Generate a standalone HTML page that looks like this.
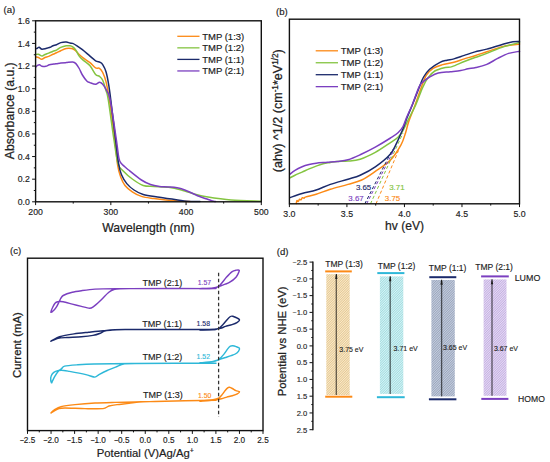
<!DOCTYPE html>
<html><head><meta charset="utf-8"><style>
html,body{margin:0;padding:0;background:#fff;}
svg{display:block;}
text{font-family:"Liberation Sans", sans-serif;}
</style></head><body>
<svg width="550" height="462" viewBox="0 0 550 462">
<rect width="550" height="462" fill="#fff"/>
<text x="3.6" y="12.6" font-size="9.6" fill="#222" stroke="#222" stroke-width="0.173" text-anchor="start">(a)</text>
<line x1="35.6" y1="201.8" x2="35.6" y2="205.1" stroke="#111" stroke-width="1.0"/>
<line x1="73.22" y1="201.8" x2="73.22" y2="203.6" stroke="#111" stroke-width="1.0"/>
<line x1="110.83" y1="201.8" x2="110.83" y2="205.1" stroke="#111" stroke-width="1.0"/>
<line x1="148.45" y1="201.8" x2="148.45" y2="203.6" stroke="#111" stroke-width="1.0"/>
<line x1="186.07" y1="201.8" x2="186.07" y2="205.1" stroke="#111" stroke-width="1.0"/>
<line x1="223.68" y1="201.8" x2="223.68" y2="203.6" stroke="#111" stroke-width="1.0"/>
<line x1="261.3" y1="201.8" x2="261.3" y2="205.1" stroke="#111" stroke-width="1.0"/>
<line x1="32.1" y1="201.8" x2="35.6" y2="201.8" stroke="#111" stroke-width="1.0"/>
<line x1="33.8" y1="190.49" x2="35.6" y2="190.49" stroke="#111" stroke-width="1.0"/>
<line x1="32.1" y1="179.18" x2="35.6" y2="179.18" stroke="#111" stroke-width="1.0"/>
<line x1="33.8" y1="167.86" x2="35.6" y2="167.86" stroke="#111" stroke-width="1.0"/>
<line x1="32.1" y1="156.55" x2="35.6" y2="156.55" stroke="#111" stroke-width="1.0"/>
<line x1="33.8" y1="145.24" x2="35.6" y2="145.24" stroke="#111" stroke-width="1.0"/>
<line x1="32.1" y1="133.93" x2="35.6" y2="133.93" stroke="#111" stroke-width="1.0"/>
<line x1="33.8" y1="122.61" x2="35.6" y2="122.61" stroke="#111" stroke-width="1.0"/>
<line x1="32.1" y1="111.3" x2="35.6" y2="111.3" stroke="#111" stroke-width="1.0"/>
<line x1="33.8" y1="99.99" x2="35.6" y2="99.99" stroke="#111" stroke-width="1.0"/>
<line x1="32.1" y1="88.68" x2="35.6" y2="88.68" stroke="#111" stroke-width="1.0"/>
<line x1="33.8" y1="77.36" x2="35.6" y2="77.36" stroke="#111" stroke-width="1.0"/>
<line x1="32.1" y1="66.05" x2="35.6" y2="66.05" stroke="#111" stroke-width="1.0"/>
<line x1="33.8" y1="54.74" x2="35.6" y2="54.74" stroke="#111" stroke-width="1.0"/>
<line x1="32.1" y1="43.43" x2="35.6" y2="43.43" stroke="#111" stroke-width="1.0"/>
<line x1="33.8" y1="32.11" x2="35.6" y2="32.11" stroke="#111" stroke-width="1.0"/>
<line x1="32.1" y1="20.8" x2="35.6" y2="20.8" stroke="#111" stroke-width="1.0"/>
<text x="35.6" y="214.8" font-size="8.7" fill="#222" stroke="#222" stroke-width="0.157" text-anchor="middle">200</text>
<text x="110.83" y="214.8" font-size="8.7" fill="#222" stroke="#222" stroke-width="0.157" text-anchor="middle">300</text>
<text x="186.07" y="214.8" font-size="8.7" fill="#222" stroke="#222" stroke-width="0.157" text-anchor="middle">400</text>
<text x="261.3" y="214.8" font-size="8.7" fill="#222" stroke="#222" stroke-width="0.157" text-anchor="middle">500</text>
<text x="29.8" y="204.9" font-size="8.7" fill="#222" stroke="#222" stroke-width="0.157" text-anchor="end">0.0</text>
<text x="29.8" y="182.28" font-size="8.7" fill="#222" stroke="#222" stroke-width="0.157" text-anchor="end">0.2</text>
<text x="29.8" y="159.65" font-size="8.7" fill="#222" stroke="#222" stroke-width="0.157" text-anchor="end">0.4</text>
<text x="29.8" y="137.03" font-size="8.7" fill="#222" stroke="#222" stroke-width="0.157" text-anchor="end">0.6</text>
<text x="29.8" y="114.4" font-size="8.7" fill="#222" stroke="#222" stroke-width="0.157" text-anchor="end">0.8</text>
<text x="29.8" y="91.78" font-size="8.7" fill="#222" stroke="#222" stroke-width="0.157" text-anchor="end">1.0</text>
<text x="29.8" y="69.15" font-size="8.7" fill="#222" stroke="#222" stroke-width="0.157" text-anchor="end">1.2</text>
<text x="29.8" y="46.53" font-size="8.7" fill="#222" stroke="#222" stroke-width="0.157" text-anchor="end">1.4</text>
<text x="29.8" y="23.9" font-size="8.7" fill="#222" stroke="#222" stroke-width="0.157" text-anchor="end">1.6</text>
<text x="148.3" y="232.3" font-size="12.2" fill="#222" stroke="#222" stroke-width="0.22" text-anchor="middle">Wavelength (nm)</text>
<text transform="translate(14.3,110.8) rotate(-90)" font-size="12.2" fill="#222" stroke="#222" stroke-width="0.26" text-anchor="middle">Absorbance (a.u.)</text>
<path d="M35.8,56.8 C36.23,56.92 37.42,57.08 38.4,57.5 C39.38,57.92 40.6,59.3 41.7,59.3 C42.8,59.3 43.83,57.98 45,57.5 C46.17,57.02 47.35,56.95 48.7,56.4 C50.05,55.85 51.8,54.8 53.1,54.2 C54.4,53.6 55.22,53.38 56.5,52.8 C57.78,52.22 59.18,51.42 60.8,50.7 C62.42,49.98 64.4,48.87 66.2,48.5 C68,48.13 70.15,48.23 71.6,48.5 C73.05,48.77 73.63,49.1 74.9,50.1 C76.17,51.1 77.77,53.15 79.2,54.5 C80.63,55.85 81.7,56.85 83.5,58.2 C85.3,59.55 87.98,60.98 90,62.6 C92.02,64.22 94.02,66.95 95.6,67.9 C97.18,68.85 98.32,67.53 99.5,68.3 C100.68,69.07 101.62,70.28 102.7,72.5 C103.78,74.72 104.88,77.02 106,81.6 C107.12,86.18 107.93,90.27 109.4,100 C110.87,109.73 113.42,129.08 114.8,140 C116.18,150.92 116.75,159.43 117.7,165.5 C118.65,171.57 119.28,173.07 120.5,176.4 C121.72,179.73 123.03,182.93 125,185.5 C126.97,188.07 129.57,189.98 132.3,191.8 C135.03,193.62 137.78,195.28 141.4,196.4 C145.02,197.52 147.95,197.73 154,198.5 C160.05,199.27 171.7,200.5 177.7,201 C183.7,201.5 187.95,201.42 190,201.5" fill="none" stroke="#FC8A16" stroke-width="1.5" stroke-linejoin="round" stroke-linecap="round"/>
<path d="M35.8,54.5 C36.23,54.45 37.35,53.95 38.4,54.2 C39.45,54.45 41,55.95 42.1,56 C43.2,56.05 43.9,54.98 45,54.5 C46.1,54.02 47.35,53.65 48.7,53.1 C50.05,52.55 51.8,51.7 53.1,51.2 C54.4,50.7 55.22,50.73 56.5,50.1 C57.78,49.47 59.18,48.12 60.8,47.4 C62.42,46.68 64.67,46.07 66.2,45.8 C67.73,45.53 68.92,45.62 70,45.8 C71.08,45.98 71.72,46.18 72.7,46.9 C73.68,47.62 74.82,48.57 75.9,50.1 C76.98,51.63 77.93,54.38 79.2,56.1 C80.47,57.82 81.7,58.78 83.5,60.4 C85.3,62.02 87.98,63.47 90,65.8 C92.02,68.13 94.02,72.63 95.6,74.4 C97.18,76.17 98.32,75.42 99.5,76.4 C100.68,77.38 101.62,77.93 102.7,80.3 C103.78,82.67 105.07,87.32 106,90.6 C106.93,93.88 106.97,91.77 108.3,100 C109.63,108.23 112.38,129.4 114,140 C115.62,150.6 116.47,158.43 118,163.6 C119.53,168.77 120.82,168.43 123.2,171 C125.58,173.57 128.97,176.58 132.3,179 C135.63,181.42 139.58,184.27 143.2,185.5 C146.82,186.73 149.77,186.1 154,186.4 C158.23,186.7 164.03,186.7 168.6,187.3 C173.17,187.9 176.83,188.8 181.4,190 C185.97,191.2 192.07,193.42 196,194.5 C199.93,195.58 199.17,195.58 205,196.5 C210.83,197.42 221.67,199.2 231,200 C240.33,200.8 256,201.08 261,201.3" fill="none" stroke="#84C441" stroke-width="1.5" stroke-linejoin="round" stroke-linecap="round"/>
<path d="M35.8,48.7 C36.05,48.63 36.75,48.55 37.3,48.3 C37.85,48.05 38.42,47.08 39.1,47.2 C39.78,47.32 40.65,48.7 41.4,49 C42.15,49.3 42.5,49.18 43.6,49 C44.7,48.82 46.9,48.2 48,47.9 C49.1,47.6 49.35,47.57 50.2,47.2 C51.05,46.83 52.05,46.12 53.1,45.7 C54.15,45.28 55.22,45.22 56.5,44.7 C57.78,44.18 59.18,43.05 60.8,42.6 C62.42,42.15 64.67,41.92 66.2,42 C67.73,42.08 68.92,42.87 70,43.1 C71.08,43.33 71.53,42.95 72.7,43.4 C73.87,43.85 75.38,44.77 77,45.8 C78.62,46.83 80.23,47.88 82.4,49.6 C84.57,51.32 87.8,54.23 90,56.1 C92.2,57.97 93.92,59.77 95.6,60.8 C97.28,61.83 98.92,61.65 100.1,62.3 C101.28,62.95 101.72,63.12 102.7,64.7 C103.68,66.28 105.02,68.55 106,71.8 C106.98,75.05 107.8,79.5 108.6,84.2 C109.4,88.9 109.63,90.7 110.8,100 C111.97,109.3 114.3,129.4 115.6,140 C116.9,150.6 117.63,157.85 118.6,163.6 C119.57,169.35 120.03,171.17 121.4,174.5 C122.77,177.83 124.7,181.02 126.8,183.6 C128.9,186.18 131.27,188.18 134,190 C136.73,191.82 138.95,193.28 143.2,194.5 C147.45,195.72 153.75,196.38 159.5,197.3 C165.25,198.22 173.15,199.35 177.7,200 C182.25,200.65 183.08,200.95 186.8,201.2 C190.52,201.45 197.8,201.45 200,201.5" fill="none" stroke="#1B2A6B" stroke-width="1.5" stroke-linejoin="round" stroke-linecap="round"/>
<path d="M35.8,67 C36.05,66.77 36.68,65.97 37.3,65.6 C37.92,65.23 38.7,64.68 39.5,64.8 C40.3,64.92 41.05,66.05 42.1,66.3 C43.15,66.55 44.58,66.55 45.8,66.3 C47.02,66.05 48.05,65.17 49.4,64.8 C50.75,64.43 52.47,64.33 53.9,64.1 C55.33,63.87 56.85,63.57 58,63.4 C59.15,63.23 59.43,63.23 60.8,63.1 C62.17,62.97 64.22,62.78 66.2,62.6 C68.18,62.42 71.08,61.83 72.7,62 C74.32,62.17 74.82,62.52 75.9,63.6 C76.98,64.68 78.12,66.6 79.2,68.5 C80.28,70.4 81.13,72.92 82.4,75 C83.67,77.08 85.53,79.73 86.8,81 C88.07,82.27 88.53,82.07 90,82.6 C91.47,83.13 94.02,84.27 95.6,84.2 C97.18,84.13 98.32,82.2 99.5,82.2 C100.68,82.2 101.62,83 102.7,84.2 C103.78,85.4 104.75,86.77 106,89.4 C107.25,92.03 108.47,91.57 110.2,100 C111.93,108.43 114.95,130.3 116.4,140 C117.85,149.7 118.07,154.27 118.9,158.2 C119.73,162.13 119.78,161.63 121.4,163.6 C123.02,165.57 125.27,167.27 128.6,170 C131.93,172.73 137.75,177.58 141.4,180 C145.05,182.42 147.48,183.43 150.5,184.5 C153.52,185.57 156.48,186 159.5,186.4 C162.52,186.8 164.95,186.52 168.6,186.9 C172.25,187.28 177.45,187.63 181.4,188.7 C185.35,189.77 189.37,192.03 192.3,193.3 C195.23,194.57 196.72,195.4 199,196.3 C201.28,197.2 204,198 206,198.7 C208,199.4 209.42,200.02 211,200.5 C212.58,200.98 214.75,201.42 215.5,201.6" fill="none" stroke="#7B3FC0" stroke-width="1.5" stroke-linejoin="round" stroke-linecap="round"/>
<rect x="35.6" y="20.8" width="225.7" height="181" fill="none" stroke="#111" stroke-width="1.4"/>
<line x1="177.3" y1="36.3" x2="199.5" y2="36.3" stroke="#FC8A16" stroke-width="1.3"/>
<text x="202.2" y="39.7" font-size="9.5" fill="#222" stroke="#222" stroke-width="0.171" text-anchor="start">TMP (1:3)</text>
<line x1="177.3" y1="47.85" x2="199.5" y2="47.85" stroke="#84C441" stroke-width="1.3"/>
<text x="202.2" y="51.25" font-size="9.5" fill="#222" stroke="#222" stroke-width="0.171" text-anchor="start">TMP (1:2)</text>
<line x1="177.3" y1="59.4" x2="199.5" y2="59.4" stroke="#1B2A6B" stroke-width="1.3"/>
<text x="202.2" y="62.8" font-size="9.5" fill="#222" stroke="#222" stroke-width="0.171" text-anchor="start">TMP (1:1)</text>
<line x1="177.3" y1="70.95" x2="199.5" y2="70.95" stroke="#7B3FC0" stroke-width="1.3"/>
<text x="202.2" y="74.35" font-size="9.5" fill="#222" stroke="#222" stroke-width="0.171" text-anchor="start">TMP (2:1)</text>
<text x="276" y="14.6" font-size="9.6" fill="#222" stroke="#222" stroke-width="0.173" text-anchor="start">(b)</text>
<line x1="289.4" y1="203.8" x2="289.4" y2="207.1" stroke="#111" stroke-width="1.0"/>
<line x1="318.16" y1="203.8" x2="318.16" y2="205.6" stroke="#111" stroke-width="1.0"/>
<line x1="346.92" y1="203.8" x2="346.92" y2="207.1" stroke="#111" stroke-width="1.0"/>
<line x1="375.69" y1="203.8" x2="375.69" y2="205.6" stroke="#111" stroke-width="1.0"/>
<line x1="404.45" y1="203.8" x2="404.45" y2="207.1" stroke="#111" stroke-width="1.0"/>
<line x1="433.21" y1="203.8" x2="433.21" y2="205.6" stroke="#111" stroke-width="1.0"/>
<line x1="461.98" y1="203.8" x2="461.98" y2="207.1" stroke="#111" stroke-width="1.0"/>
<line x1="490.74" y1="203.8" x2="490.74" y2="205.6" stroke="#111" stroke-width="1.0"/>
<line x1="519.5" y1="203.8" x2="519.5" y2="207.1" stroke="#111" stroke-width="1.0"/>
<text x="289.4" y="217.1" font-size="8.8" fill="#222" stroke="#222" stroke-width="0.158" text-anchor="middle">3.0</text>
<text x="346.92" y="217.1" font-size="8.8" fill="#222" stroke="#222" stroke-width="0.158" text-anchor="middle">3.5</text>
<text x="404.45" y="217.1" font-size="8.8" fill="#222" stroke="#222" stroke-width="0.158" text-anchor="middle">4.0</text>
<text x="461.98" y="217.1" font-size="8.8" fill="#222" stroke="#222" stroke-width="0.158" text-anchor="middle">4.5</text>
<text x="519.5" y="217.1" font-size="8.8" fill="#222" stroke="#222" stroke-width="0.158" text-anchor="middle">5.0</text>
<text x="404.5" y="229.8" font-size="12.1" fill="#222" stroke="#222" stroke-width="0.218" text-anchor="middle">hv (eV)</text>
<text transform="translate(282.4,110.7) rotate(-90)" font-size="12.55" fill="#222" stroke="#222" stroke-width="0.26" text-anchor="middle">(ahv) ^1/2 (cm<tspan font-size="8.2" dy="-4.6">-1</tspan><tspan dy="4.6">*eV</tspan><tspan font-size="8.2" dy="-4.6">1/2</tspan><tspan dy="4.6">)</tspan></text>
<path d="M296.3,203.4 C296.42,202.93 296.67,200.93 297,200.6 C297.33,200.27 297.87,201.63 298.3,201.4 C298.73,201.17 299.15,199.47 299.6,199.2 C300.05,198.93 300.53,200.05 301,199.8 C301.47,199.55 301.9,197.97 302.4,197.7 C302.9,197.43 303.4,198.33 304,198.2 C304.6,198.07 303.97,197.57 306,196.9 C308.03,196.23 312.15,195.47 316.2,194.2 C320.25,192.93 325,190.93 330.3,189.3 C335.6,187.67 342.77,185.95 348,184.4 C353.23,182.85 357.15,182.17 361.7,180 C366.25,177.83 370.5,174.73 375.3,171.4 C380.1,168.07 386.22,164.43 390.5,160 C394.78,155.57 398.48,149.35 401,144.8 C403.52,140.25 404.33,136.5 405.6,132.7 C406.87,128.9 407.05,126.52 408.6,122 C410.15,117.48 412.83,111.22 414.9,105.6 C416.97,99.98 419.12,93.35 421,88.3 C422.88,83.25 424.18,78.62 426.2,75.3 C428.22,71.98 430.5,70.13 433.1,68.4 C435.7,66.67 438.33,65.92 441.8,64.9 C445.27,63.88 450.15,63.3 453.9,62.3 C457.65,61.3 460.78,60 464.3,58.9 C467.82,57.8 471.25,56.88 475,55.7 C478.75,54.52 482.1,53.35 486.8,51.8 C491.5,50.25 497.75,47.7 503.2,46.4 C508.65,45.1 516.78,44.4 519.5,44" fill="none" stroke="#FC8A16" stroke-width="1.5" stroke-linejoin="round" stroke-linecap="round"/>
<path d="M289.7,178 C290.58,177.53 292.93,176.18 295,175.2 C297.07,174.22 299.75,173.15 302.1,172.1 C304.45,171.05 306.75,169.9 309.1,168.9 C311.45,167.9 313.85,166.97 316.2,166.1 C318.55,165.23 320.85,164.3 323.2,163.7 C325.55,163.1 327.95,162.88 330.3,162.5 C332.65,162.12 334.35,161.63 337.3,161.4 C340.25,161.17 344.18,161.47 348,161.1 C351.82,160.73 355.65,160.65 360.2,159.2 C364.75,157.75 370.25,155.17 375.3,152.4 C380.35,149.63 386.72,145.12 390.5,142.6 C394.28,140.08 395.98,139.2 398,137.3 C400.02,135.4 400.83,134.25 402.6,131.2 C404.37,128.15 406.4,123.42 408.6,119 C410.8,114.58 413.45,109.97 415.8,104.7 C418.15,99.43 420.68,91.87 422.7,87.4 C424.72,82.93 425.88,80.63 427.9,77.9 C429.92,75.17 431.92,72.73 434.8,71 C437.68,69.27 442.32,68.23 445.2,67.5 C448.08,66.77 448.92,67.6 452.1,66.6 C455.28,65.6 460.48,63.02 464.3,61.5 C468.12,59.98 471.25,58.85 475,57.5 C478.75,56.15 482.1,55.17 486.8,53.4 C491.5,51.63 497.75,48.7 503.2,46.9 C508.65,45.1 516.78,43.32 519.5,42.6" fill="none" stroke="#84C441" stroke-width="1.5" stroke-linejoin="round" stroke-linecap="round"/>
<path d="M289.7,197.7 C291.77,197 297.68,194.78 302.1,193.5 C306.52,192.22 311.5,191.52 316.2,190 C320.9,188.48 325,186.2 330.3,184.4 C335.6,182.6 343.02,180.73 348,179.2 C352.98,177.67 355.65,177.27 360.2,175.2 C364.75,173.13 370.25,170.35 375.3,166.8 C380.35,163.25 386.97,157.82 390.5,153.9 C394.03,149.98 394.48,147.33 396.5,143.3 C398.52,139.27 400.83,133.98 402.6,129.7 C404.37,125.42 405.48,121.72 407.1,117.6 C408.72,113.48 410.28,110.03 412.3,105 C414.32,99.97 417.32,92.07 419.2,87.4 C421.08,82.73 421.87,80.03 423.6,77 C425.33,73.97 426.87,71.65 429.6,69.2 C432.33,66.75 437.1,63.8 440,62.3 C442.9,60.8 444.68,60.77 447,60.2 C449.32,59.63 451.02,59.7 453.9,58.9 C456.78,58.1 460.78,56.57 464.3,55.4 C467.82,54.23 471.25,52.95 475,51.9 C478.75,50.85 481.2,50.63 486.8,49.1 C492.4,47.57 503.15,43.97 508.6,42.7 C514.05,41.43 517.68,41.7 519.5,41.5" fill="none" stroke="#1B2A6B" stroke-width="1.5" stroke-linejoin="round" stroke-linecap="round"/>
<path d="M289.7,174.5 C290.58,173.8 292.93,171.58 295,170.3 C297.07,169.02 299.75,167.75 302.1,166.8 C304.45,165.85 306.75,165.2 309.1,164.6 C311.45,164 313.15,163.58 316.2,163.2 C319.25,162.82 323.88,162.6 327.4,162.3 C330.92,162 333.87,161.83 337.3,161.4 C340.73,160.97 344.18,160.82 348,159.7 C351.82,158.58 355.65,156.8 360.2,154.7 C364.75,152.6 370.25,149.88 375.3,147.1 C380.35,144.32 386.72,140.4 390.5,138 C394.28,135.6 395.92,134.62 398,132.7 C400.08,130.78 401.5,129.2 403,126.5 C404.5,123.8 405.45,120.13 407,116.5 C408.55,112.87 410.27,109.68 412.3,104.7 C414.33,99.72 417.32,90.48 419.2,86.6 C421.08,82.72 421.87,83 423.6,81.4 C425.33,79.8 427.15,78.4 429.6,77 C432.05,75.6 434.83,73.87 438.3,73 C441.77,72.13 446.65,72.2 450.4,71.8 C454.15,71.4 457.87,71.1 460.8,70.6 C463.73,70.1 465.48,69.3 468,68.8 C470.52,68.3 472.77,68.33 475.9,67.6 C479.03,66.87 483.17,65.93 486.8,64.4 C490.43,62.87 494.07,60.23 497.7,58.4 C501.33,56.57 504.97,54.58 508.6,53.4 C512.23,52.22 517.68,51.65 519.5,51.3" fill="none" stroke="#7B3FC0" stroke-width="1.5" stroke-linejoin="round" stroke-linecap="round"/>
<line x1="376" y1="203.8" x2="398.5" y2="150.5" stroke="#FC8A16" stroke-width="1.0" stroke-dasharray="3.2,2.3"/>
<line x1="370.5" y1="203.8" x2="403" y2="133" stroke="#84C441" stroke-width="1.0" stroke-dasharray="3.2,2.3"/>
<line x1="364.8" y1="203.8" x2="392.5" y2="149.5" stroke="#1B2A6B" stroke-width="1.0" stroke-dasharray="3.2,2.3"/>
<line x1="366.6" y1="203.8" x2="394.2" y2="149.5" stroke="#7B3FC0" stroke-width="1.0" stroke-dasharray="3.2,2.3"/>
<text x="355.9" y="190.2" font-size="7.9" fill="#1B2A6B" stroke="#1B2A6B" stroke-width="0.142" text-anchor="start">3.65</text>
<text x="389.2" y="190.2" font-size="7.9" fill="#84C441" stroke="#84C441" stroke-width="0.142" text-anchor="start">3.71</text>
<text x="348.3" y="201.4" font-size="7.9" fill="#7B3FC0" stroke="#7B3FC0" stroke-width="0.142" text-anchor="start">3.67</text>
<text x="384.8" y="201.4" font-size="7.9" fill="#FC8A16" stroke="#FC8A16" stroke-width="0.142" text-anchor="start">3.75</text>
<rect x="289.4" y="19.2" width="230.1" height="184.6" fill="none" stroke="#111" stroke-width="1.4"/>
<line x1="315.7" y1="50.8" x2="338" y2="50.8" stroke="#FC8A16" stroke-width="1.3"/>
<text x="340.7" y="54.2" font-size="9.6" fill="#222" stroke="#222" stroke-width="0.173" text-anchor="start">TMP (1:3)</text>
<line x1="315.7" y1="62.75" x2="338" y2="62.75" stroke="#84C441" stroke-width="1.3"/>
<text x="340.7" y="66.15" font-size="9.6" fill="#222" stroke="#222" stroke-width="0.173" text-anchor="start">TMP (1:2)</text>
<line x1="315.7" y1="74.7" x2="338" y2="74.7" stroke="#1B2A6B" stroke-width="1.3"/>
<text x="340.7" y="78.1" font-size="9.6" fill="#222" stroke="#222" stroke-width="0.173" text-anchor="start">TMP (1:1)</text>
<line x1="315.7" y1="86.65" x2="338" y2="86.65" stroke="#7B3FC0" stroke-width="1.3"/>
<text x="340.7" y="90.05" font-size="9.6" fill="#222" stroke="#222" stroke-width="0.173" text-anchor="start">TMP (2:1)</text>
<text x="10" y="254.4" font-size="9.6" fill="#222" stroke="#222" stroke-width="0.173" text-anchor="start">(c)</text>
<line x1="27.5" y1="430.6" x2="27.5" y2="433.9" stroke="#111" stroke-width="1.0"/>
<line x1="39.27" y1="430.6" x2="39.27" y2="432.4" stroke="#111" stroke-width="1.0"/>
<line x1="51.05" y1="430.6" x2="51.05" y2="433.9" stroke="#111" stroke-width="1.0"/>
<line x1="62.83" y1="430.6" x2="62.83" y2="432.4" stroke="#111" stroke-width="1.0"/>
<line x1="74.6" y1="430.6" x2="74.6" y2="433.9" stroke="#111" stroke-width="1.0"/>
<line x1="86.38" y1="430.6" x2="86.38" y2="432.4" stroke="#111" stroke-width="1.0"/>
<line x1="98.15" y1="430.6" x2="98.15" y2="433.9" stroke="#111" stroke-width="1.0"/>
<line x1="109.92" y1="430.6" x2="109.92" y2="432.4" stroke="#111" stroke-width="1.0"/>
<line x1="121.7" y1="430.6" x2="121.7" y2="433.9" stroke="#111" stroke-width="1.0"/>
<line x1="133.47" y1="430.6" x2="133.47" y2="432.4" stroke="#111" stroke-width="1.0"/>
<line x1="145.25" y1="430.6" x2="145.25" y2="433.9" stroke="#111" stroke-width="1.0"/>
<line x1="157.03" y1="430.6" x2="157.03" y2="432.4" stroke="#111" stroke-width="1.0"/>
<line x1="168.8" y1="430.6" x2="168.8" y2="433.9" stroke="#111" stroke-width="1.0"/>
<line x1="180.57" y1="430.6" x2="180.57" y2="432.4" stroke="#111" stroke-width="1.0"/>
<line x1="192.35" y1="430.6" x2="192.35" y2="433.9" stroke="#111" stroke-width="1.0"/>
<line x1="204.12" y1="430.6" x2="204.12" y2="432.4" stroke="#111" stroke-width="1.0"/>
<line x1="215.9" y1="430.6" x2="215.9" y2="433.9" stroke="#111" stroke-width="1.0"/>
<line x1="227.68" y1="430.6" x2="227.68" y2="432.4" stroke="#111" stroke-width="1.0"/>
<line x1="239.45" y1="430.6" x2="239.45" y2="433.9" stroke="#111" stroke-width="1.0"/>
<line x1="251.22" y1="430.6" x2="251.22" y2="432.4" stroke="#111" stroke-width="1.0"/>
<line x1="263" y1="430.6" x2="263" y2="433.9" stroke="#111" stroke-width="1.0"/>
<text x="27.5" y="443" font-size="8.2" fill="#222" stroke="#222" stroke-width="0.148" text-anchor="middle"><tspan font-size="7">&#8722;</tspan>2.5</text>
<text x="51.05" y="443" font-size="8.2" fill="#222" stroke="#222" stroke-width="0.148" text-anchor="middle"><tspan font-size="7">&#8722;</tspan>2.0</text>
<text x="74.6" y="443" font-size="8.2" fill="#222" stroke="#222" stroke-width="0.148" text-anchor="middle"><tspan font-size="7">&#8722;</tspan>1.5</text>
<text x="98.15" y="443" font-size="8.2" fill="#222" stroke="#222" stroke-width="0.148" text-anchor="middle"><tspan font-size="7">&#8722;</tspan>1.0</text>
<text x="121.7" y="443" font-size="8.2" fill="#222" stroke="#222" stroke-width="0.148" text-anchor="middle"><tspan font-size="7">&#8722;</tspan>0.5</text>
<text x="145.25" y="443" font-size="8.2" fill="#222" stroke="#222" stroke-width="0.148" text-anchor="middle">0.0</text>
<text x="168.8" y="443" font-size="8.2" fill="#222" stroke="#222" stroke-width="0.148" text-anchor="middle">0.5</text>
<text x="192.35" y="443" font-size="8.2" fill="#222" stroke="#222" stroke-width="0.148" text-anchor="middle">1.0</text>
<text x="215.9" y="443" font-size="8.2" fill="#222" stroke="#222" stroke-width="0.148" text-anchor="middle">1.5</text>
<text x="239.45" y="443" font-size="8.2" fill="#222" stroke="#222" stroke-width="0.148" text-anchor="middle">2.0</text>
<text x="263" y="443" font-size="8.2" fill="#222" stroke="#222" stroke-width="0.148" text-anchor="middle">2.5</text>
<text x="145.3" y="456.7" font-size="11.3" fill="#222" stroke="#222" stroke-width="0.203" text-anchor="middle">Potential (V)Ag/Ag<tspan font-size="7" dy="-4">+</tspan></text>
<text transform="translate(20.6,345.1) rotate(-90)" font-size="11.4" fill="#222" stroke="#222" stroke-width="0.26" text-anchor="middle">Current (mA)</text>
<path d="M216,288.6 C207.2,288.6 163.33,288.6 150,288.6 C136.67,288.6 123.33,288.53 116,288.6 C108.67,288.67 99.61,288.82 95,289.1 C90.39,289.38 84.43,290.27 81.4,290.7 C78.37,291.13 74.73,291.66 72.3,292.3 C69.87,292.94 64.72,294.71 63.2,295.5 C61.68,296.29 61.45,297.36 60.9,298.2 C60.35,299.04 59.65,300.71 59.1,301.8 C58.55,302.89 57.47,305.31 56.8,306.4 C56.13,307.49 54.89,309.21 54.1,310 C53.31,310.79 51.09,312.66 50.9,312.3 C50.71,311.94 52.15,308.51 52.7,307.3 C53.25,306.09 54.33,303.93 55,303.2 C55.67,302.47 56.61,301.99 57.7,301.8 C58.79,301.61 61.25,301.49 63.2,301.8 C65.15,302.11 69.87,303.49 72.3,304.1 C74.73,304.71 79.11,305.85 81.4,306.4 C83.69,306.95 87.93,308.15 89.5,308.2 C91.07,308.25 91.8,307.76 93.2,306.8 C94.6,305.84 98.03,302.84 100,301 C101.97,299.16 106.13,294.53 108,293 C109.87,291.47 111.07,290.09 114,289.5 C116.93,288.91 116.4,288.72 130,288.6 C143.6,288.48 204.53,288.6 216,288.6" fill="none" stroke="#7B3FC0" stroke-width="1.45" stroke-linejoin="round" stroke-linecap="round"/>
<path d="M200,288.6 C201.73,288.56 210.48,288.62 213,288.3 C215.52,287.98 217.11,287.67 218.9,286.2 C220.69,284.73 224.68,279.22 226.4,277.3 C228.12,275.38 230.52,272.75 231.8,271.8 C233.08,270.85 235,270.37 236,270.2 C237,270.03 239.3,269.55 239.3,270.5 C239.3,271.45 237.37,275.67 236,277.3 C234.63,278.93 231,281.58 229,282.7 C227,283.82 223.13,284.99 221,285.7 C218.87,286.41 215.8,287.61 213,288 C210.2,288.39 201.73,288.52 200,288.6" fill="none" stroke="#7B3FC0" stroke-width="1.45" stroke-linejoin="round" stroke-linecap="round"/>
<path d="M216,329.5 C203.87,329.5 140.04,329.34 125,329.5 C109.96,329.66 108.05,330.34 103.2,330.7 C98.35,331.06 92.48,331.77 88.6,332.2 C84.72,332.63 77.98,333.29 74.1,333.9 C70.22,334.51 62.61,335.83 59.5,336.8 C56.39,337.77 50.99,341 50.8,341.2 C50.61,341.4 55.97,338.79 58.1,338.3 C60.23,337.81 63.69,337.7 66.8,337.5 C69.91,337.3 77.91,337.08 81.4,336.8 C84.89,336.52 90.48,335.88 93,335.4 C95.52,334.92 98.75,333.79 100.3,333.2 C101.85,332.61 103.24,331.39 104.6,331 C105.96,330.61 107.78,330.49 110.5,330.3 C113.22,330.11 110.93,329.71 125,329.6 C139.07,329.49 203.87,329.51 216,329.5" fill="none" stroke="#1B2A6B" stroke-width="1.45" stroke-linejoin="round" stroke-linecap="round"/>
<path d="M200,330 C201.76,329.93 210.73,329.67 213.2,329.5 C215.67,329.33 217.19,329.35 218.5,328.7 C219.81,328.05 221.85,325.8 223,324.6 C224.15,323.4 226.11,320.78 227.1,319.7 C228.09,318.62 229.64,316.95 230.4,316.5 C231.16,316.05 231.6,315.89 232.8,316.3 C234,316.71 238.85,318.76 239.4,319.6 C239.95,320.44 237.89,321.93 236.9,322.6 C235.91,323.27 233.52,324.09 232,324.6 C230.48,325.11 227.03,325.91 225.5,326.4 C223.97,326.89 222.17,327.87 220.5,328.3 C218.83,328.73 215.73,329.37 213,329.6 C210.27,329.83 201.73,329.95 200,330" fill="none" stroke="#1B2A6B" stroke-width="1.45" stroke-linejoin="round" stroke-linecap="round"/>
<path d="M216,363.2 C205.2,363.24 151.25,363.39 135,363.5 C118.75,363.61 101.74,363.83 94.1,364 C86.46,364.17 81.63,364.52 77.7,364.8 C73.77,365.08 66.77,365.55 64.6,366.1 C62.43,366.65 62.27,368.19 61.4,368.9 C60.53,369.61 58.98,370.41 58.1,371.4 C57.22,372.39 55.56,374.99 54.8,376.3 C54.04,377.61 52.84,380.33 52.4,381.2 C51.96,382.07 51.73,383.24 51.5,382.8 C51.27,382.36 50.58,379.1 50.7,377.9 C50.82,376.7 51.75,374.67 52.4,373.8 C53.05,372.93 54.4,371.88 55.6,371.4 C56.8,370.92 59.55,370.2 61.4,370.2 C63.25,370.2 66.23,370.81 69.5,371.4 C72.77,371.99 82.51,373.84 85.9,374.6 C89.29,375.36 93.15,377.1 94.9,377.1 C96.65,377.1 97.36,375.48 99,374.6 C100.64,373.72 104.8,371.58 107.2,370.5 C109.6,369.42 114.81,367.37 117,366.5 C119.19,365.63 121.2,364.4 123.6,364 C126,363.6 122.68,363.61 135,363.5 C147.32,363.39 205.2,363.24 216,363.2" fill="none" stroke="#2EB8D8" stroke-width="1.45" stroke-linejoin="round" stroke-linecap="round"/>
<path d="M200,363 C201.73,362.83 210.53,362.14 213,361.7 C215.47,361.26 217.06,360.67 218.5,359.7 C219.94,358.73 222.55,355.88 223.8,354.4 C225.05,352.92 227.02,349.69 227.9,348.6 C228.78,347.51 229.75,346.57 230.4,346.2 C231.05,345.83 232.04,345.75 232.8,345.8 C233.56,345.85 235.22,346.28 236.1,346.6 C236.98,346.92 239.07,347.6 239.4,348.2 C239.73,348.8 239.15,350.33 238.6,351.1 C238.05,351.87 236.29,353.4 235.3,354 C234.31,354.6 232.51,355.13 231.2,355.6 C229.89,356.07 226.93,357.03 225.5,357.5 C224.07,357.97 222.17,358.57 220.5,359.1 C218.83,359.63 215.73,361.01 213,361.5 C210.27,361.99 201.73,362.63 200,362.8" fill="none" stroke="#2EB8D8" stroke-width="1.45" stroke-linejoin="round" stroke-linecap="round"/>
<path d="M216,400.2 C207.87,400.36 165.8,401.16 155,401.4 C144.2,401.64 140.33,401.87 135,402 C129.67,402.13 120.33,402.27 115,402.4 C109.67,402.53 100.33,402.71 95,403 C89.67,403.29 79.53,404.12 75,404.6 C70.47,405.08 63.67,405.96 61,406.6 C58.33,407.24 56.33,408.55 55,409.4 C53.67,410.25 51.13,412.79 51,413 C50.87,413.21 52.93,411.59 54,411 C55.07,410.41 57.53,409 59,408.6 C60.47,408.2 61.53,408 65,408 C68.47,408 79.93,408.52 85,408.6 C90.07,408.68 99.8,408.95 103,408.6 C106.2,408.25 107.13,406.53 109,406 C110.87,405.47 114.33,404.95 117,404.6 C119.67,404.25 126.07,403.75 129,403.4 C131.93,403.05 135.53,402.25 139,402 C142.47,401.75 144.73,401.74 155,401.5 C165.27,401.26 207.87,400.37 216,400.2" fill="none" stroke="#FC8A16" stroke-width="1.45" stroke-linejoin="round" stroke-linecap="round"/>
<path d="M200,401.3 C201.73,401.1 210.52,400.21 213,399.8 C215.48,399.39 217.36,398.92 218.6,398.2 C219.84,397.48 221.45,395.4 222.3,394.4 C223.15,393.4 224.28,391.58 225,390.7 C225.72,389.82 227.1,388.25 227.7,387.8 C228.3,387.35 228.89,387.21 229.5,387.3 C230.11,387.39 231.45,388.05 232.3,388.5 C233.15,388.95 234.95,390.29 235.9,390.7 C236.85,391.11 239.21,391.17 239.4,391.6 C239.59,392.03 238.25,393.35 237.3,393.9 C236.35,394.45 233.7,395.27 232.3,395.7 C230.9,396.13 228.25,396.7 226.8,397.1 C225.35,397.5 223.24,398.31 221.4,398.7 C219.56,399.09 215.85,399.65 213,400 C210.15,400.35 201.73,401.13 200,401.3" fill="none" stroke="#FC8A16" stroke-width="1.45" stroke-linejoin="round" stroke-linecap="round"/>
<line x1="218.6" y1="272.8" x2="218.6" y2="417" stroke="#333" stroke-width="1.25" stroke-dasharray="3.5,2.5"/>
<text x="142.4" y="285.8" font-size="9.0" fill="#222" stroke="#222" stroke-width="0.162" text-anchor="start">TMP (2:1)</text>
<text x="142.2" y="327.2" font-size="9.0" fill="#222" stroke="#222" stroke-width="0.162" text-anchor="start">TMP (1:1)</text>
<text x="142.4" y="360.2" font-size="9.0" fill="#222" stroke="#222" stroke-width="0.162" text-anchor="start">TMP (1:2)</text>
<text x="143" y="398.2" font-size="9.0" fill="#222" stroke="#222" stroke-width="0.162" text-anchor="start">TMP (1:3)</text>
<text x="197.7" y="284.8" font-size="6.9" fill="#7B3FC0" stroke="#7B3FC0" stroke-width="0.124" text-anchor="start">1.57</text>
<text x="196.6" y="326.4" font-size="6.9" fill="#1B2A6B" stroke="#1B2A6B" stroke-width="0.124" text-anchor="start">1.58</text>
<text x="196.6" y="358.8" font-size="6.9" fill="#2EB8D8" stroke="#2EB8D8" stroke-width="0.124" text-anchor="start">1.52</text>
<text x="198" y="398.2" font-size="6.9" fill="#FC8A16" stroke="#FC8A16" stroke-width="0.124" text-anchor="start">1.50</text>
<rect x="27.5" y="258.2" width="235.5" height="172.4" fill="none" stroke="#111" stroke-width="1.4"/>
<text x="276.8" y="254.6" font-size="9.6" fill="#222" stroke="#222" stroke-width="0.173" text-anchor="start">(d)</text>
<line x1="312.9" y1="261.6" x2="312.9" y2="430.2" stroke="#111" stroke-width="1.4"/>
<line x1="309.5" y1="262.1" x2="312.9" y2="262.1" stroke="#111" stroke-width="1.0"/>
<line x1="311.3" y1="270.48" x2="312.9" y2="270.48" stroke="#111" stroke-width="1.0"/>
<line x1="309.5" y1="278.86" x2="312.9" y2="278.86" stroke="#111" stroke-width="1.0"/>
<line x1="311.3" y1="287.24" x2="312.9" y2="287.24" stroke="#111" stroke-width="1.0"/>
<line x1="309.5" y1="295.62" x2="312.9" y2="295.62" stroke="#111" stroke-width="1.0"/>
<line x1="311.3" y1="304" x2="312.9" y2="304" stroke="#111" stroke-width="1.0"/>
<line x1="309.5" y1="312.38" x2="312.9" y2="312.38" stroke="#111" stroke-width="1.0"/>
<line x1="311.3" y1="320.76" x2="312.9" y2="320.76" stroke="#111" stroke-width="1.0"/>
<line x1="309.5" y1="329.14" x2="312.9" y2="329.14" stroke="#111" stroke-width="1.0"/>
<line x1="311.3" y1="337.52" x2="312.9" y2="337.52" stroke="#111" stroke-width="1.0"/>
<line x1="309.5" y1="345.9" x2="312.9" y2="345.9" stroke="#111" stroke-width="1.0"/>
<line x1="311.3" y1="354.28" x2="312.9" y2="354.28" stroke="#111" stroke-width="1.0"/>
<line x1="309.5" y1="362.66" x2="312.9" y2="362.66" stroke="#111" stroke-width="1.0"/>
<line x1="311.3" y1="371.04" x2="312.9" y2="371.04" stroke="#111" stroke-width="1.0"/>
<line x1="309.5" y1="379.42" x2="312.9" y2="379.42" stroke="#111" stroke-width="1.0"/>
<line x1="311.3" y1="387.8" x2="312.9" y2="387.8" stroke="#111" stroke-width="1.0"/>
<line x1="309.5" y1="396.18" x2="312.9" y2="396.18" stroke="#111" stroke-width="1.0"/>
<line x1="311.3" y1="404.56" x2="312.9" y2="404.56" stroke="#111" stroke-width="1.0"/>
<line x1="309.5" y1="412.94" x2="312.9" y2="412.94" stroke="#111" stroke-width="1.0"/>
<line x1="311.3" y1="421.32" x2="312.9" y2="421.32" stroke="#111" stroke-width="1.0"/>
<line x1="309.5" y1="429.7" x2="312.9" y2="429.7" stroke="#111" stroke-width="1.0"/>
<text x="307.2" y="264.9" font-size="7.6" fill="#222" stroke="#222" stroke-width="0.137" text-anchor="end"><tspan font-size="6.8">&#8722;</tspan>2.5</text>
<text x="307.2" y="281.66" font-size="7.6" fill="#222" stroke="#222" stroke-width="0.137" text-anchor="end"><tspan font-size="6.8">&#8722;</tspan>2.0</text>
<text x="307.2" y="298.42" font-size="7.6" fill="#222" stroke="#222" stroke-width="0.137" text-anchor="end"><tspan font-size="6.8">&#8722;</tspan>1.5</text>
<text x="307.2" y="315.18" font-size="7.6" fill="#222" stroke="#222" stroke-width="0.137" text-anchor="end"><tspan font-size="6.8">&#8722;</tspan>1.0</text>
<text x="307.2" y="331.94" font-size="7.6" fill="#222" stroke="#222" stroke-width="0.137" text-anchor="end"><tspan font-size="6.8">&#8722;</tspan>0.5</text>
<text x="307.2" y="348.7" font-size="7.6" fill="#222" stroke="#222" stroke-width="0.137" text-anchor="end">0.0</text>
<text x="307.2" y="365.46" font-size="7.6" fill="#222" stroke="#222" stroke-width="0.137" text-anchor="end">0.5</text>
<text x="307.2" y="382.22" font-size="7.6" fill="#222" stroke="#222" stroke-width="0.137" text-anchor="end">1.0</text>
<text x="307.2" y="398.98" font-size="7.6" fill="#222" stroke="#222" stroke-width="0.137" text-anchor="end">1.5</text>
<text x="307.2" y="415.74" font-size="7.6" fill="#222" stroke="#222" stroke-width="0.137" text-anchor="end">2.0</text>
<text x="307.2" y="432.5" font-size="7.6" fill="#222" stroke="#222" stroke-width="0.137" text-anchor="end">2.5</text>
<text transform="translate(286.4,341.3) rotate(-90)" font-size="11.3" fill="#222" stroke="#222" stroke-width="0.26" text-anchor="middle">Potential vs NHE (eV)</text>
<defs>
<pattern id="hO" patternUnits="userSpaceOnUse" width="1.7" height="1.7" patternTransform="rotate(45)"><rect width="1.7" height="1.7" fill="#FAEACB"/><rect width="0.8" height="1.7" fill="#E3C690"/></pattern>
<pattern id="hC" patternUnits="userSpaceOnUse" width="1.7" height="1.7" patternTransform="rotate(45)"><rect width="1.7" height="1.7" fill="#D2F7F9"/><rect width="0.8" height="1.7" fill="#A4D8DC"/></pattern>
<pattern id="hN" patternUnits="userSpaceOnUse" width="1.7" height="1.7" patternTransform="rotate(45)"><rect width="1.7" height="1.7" fill="#C6CFDF"/><rect width="0.8" height="1.7" fill="#97A3BA"/></pattern>
<pattern id="hP" patternUnits="userSpaceOnUse" width="1.7" height="1.7" patternTransform="rotate(45)"><rect width="1.7" height="1.7" fill="#E6D9F7"/><rect width="0.8" height="1.7" fill="#C2B0DE"/></pattern>
</defs>
<rect x="326.3" y="274.2" width="23.4" height="120.8" fill="url(#hO)"/>
<line x1="325.2" y1="271.4" x2="351.8" y2="271.4" stroke="#FC8A16" stroke-width="2.0"/>
<line x1="325.2" y1="396.7" x2="352.3" y2="396.7" stroke="#FC8A16" stroke-width="2.0"/>
<line x1="336.3" y1="395" x2="336.3" y2="278.2" stroke="#000" stroke-width="1.3" stroke-opacity="0.6"/>
<path d="M335.2,279 L335.8,274 L336.8,274 L337.4,279 Z" fill="#1a1a1a"/>
<text x="325.2" y="266.7" font-size="8.5" fill="#222" stroke="#222" stroke-width="0.153" text-anchor="start">TMP (1:3)</text>
<text x="339.3" y="352.3" font-size="7.0" fill="#222" stroke="#222" stroke-width="0.12" text-anchor="start">3.75 eV</text>
<rect x="379.9" y="276.4" width="23.4" height="117.5" fill="url(#hC)"/>
<line x1="377.3" y1="273.1" x2="404.4" y2="273.1" stroke="#2EB8D8" stroke-width="2.0"/>
<line x1="376.9" y1="397.2" x2="404.7" y2="397.2" stroke="#2EB8D8" stroke-width="2.0"/>
<line x1="390.2" y1="393.9" x2="390.2" y2="280.4" stroke="#000" stroke-width="1.3" stroke-opacity="0.6"/>
<path d="M389.1,281.2 L389.7,276.2 L390.7,276.2 L391.3,281.2 Z" fill="#1a1a1a"/>
<text x="377.7" y="268.6" font-size="8.5" fill="#222" stroke="#222" stroke-width="0.153" text-anchor="start">TMP (1:2)</text>
<text x="393.6" y="351.2" font-size="7.0" fill="#222" stroke="#222" stroke-width="0.12" text-anchor="start">3.71 eV</text>
<rect x="431.4" y="280" width="23.4" height="116.4" fill="url(#hN)"/>
<line x1="429.3" y1="277.2" x2="456.3" y2="277.2" stroke="#1B2A6B" stroke-width="2.0"/>
<line x1="428.9" y1="399.3" x2="456.4" y2="399.3" stroke="#1B2A6B" stroke-width="2.0"/>
<line x1="441.6" y1="396.4" x2="441.6" y2="284" stroke="#000" stroke-width="1.3" stroke-opacity="0.6"/>
<path d="M440.5,284.8 L441.1,279.8 L442.1,279.8 L442.7,284.8 Z" fill="#1a1a1a"/>
<text x="428.8" y="270.8" font-size="8.5" fill="#222" stroke="#222" stroke-width="0.153" text-anchor="start">TMP (1:1)</text>
<text x="443" y="349.5" font-size="7.0" fill="#222" stroke="#222" stroke-width="0.12" text-anchor="start">3.65 eV</text>
<rect x="483.6" y="279.4" width="22.9" height="116.4" fill="url(#hP)"/>
<line x1="481.1" y1="276.4" x2="508.8" y2="276.4" stroke="#7B3FC0" stroke-width="2.0"/>
<line x1="481.3" y1="398.9" x2="508.4" y2="398.9" stroke="#7B3FC0" stroke-width="2.0"/>
<line x1="492" y1="395.8" x2="492" y2="283.4" stroke="#000" stroke-width="1.3" stroke-opacity="0.6"/>
<path d="M490.9,284.2 L491.5,279.2 L492.5,279.2 L493.1,284.2 Z" fill="#1a1a1a"/>
<text x="475.3" y="269.9" font-size="8.5" fill="#222" stroke="#222" stroke-width="0.153" text-anchor="start">TMP (2:1)</text>
<text x="493.9" y="350.9" font-size="7.0" fill="#222" stroke="#222" stroke-width="0.12" text-anchor="start">3.67 eV</text>
<text x="514.7" y="281" font-size="8.9" fill="#222" stroke="#222" stroke-width="0.16" text-anchor="start">LUMO</text>
<text x="518.1" y="402.4" font-size="8.6" fill="#222" stroke="#222" stroke-width="0.155" text-anchor="start">HOMO</text>
</svg></body></html>
